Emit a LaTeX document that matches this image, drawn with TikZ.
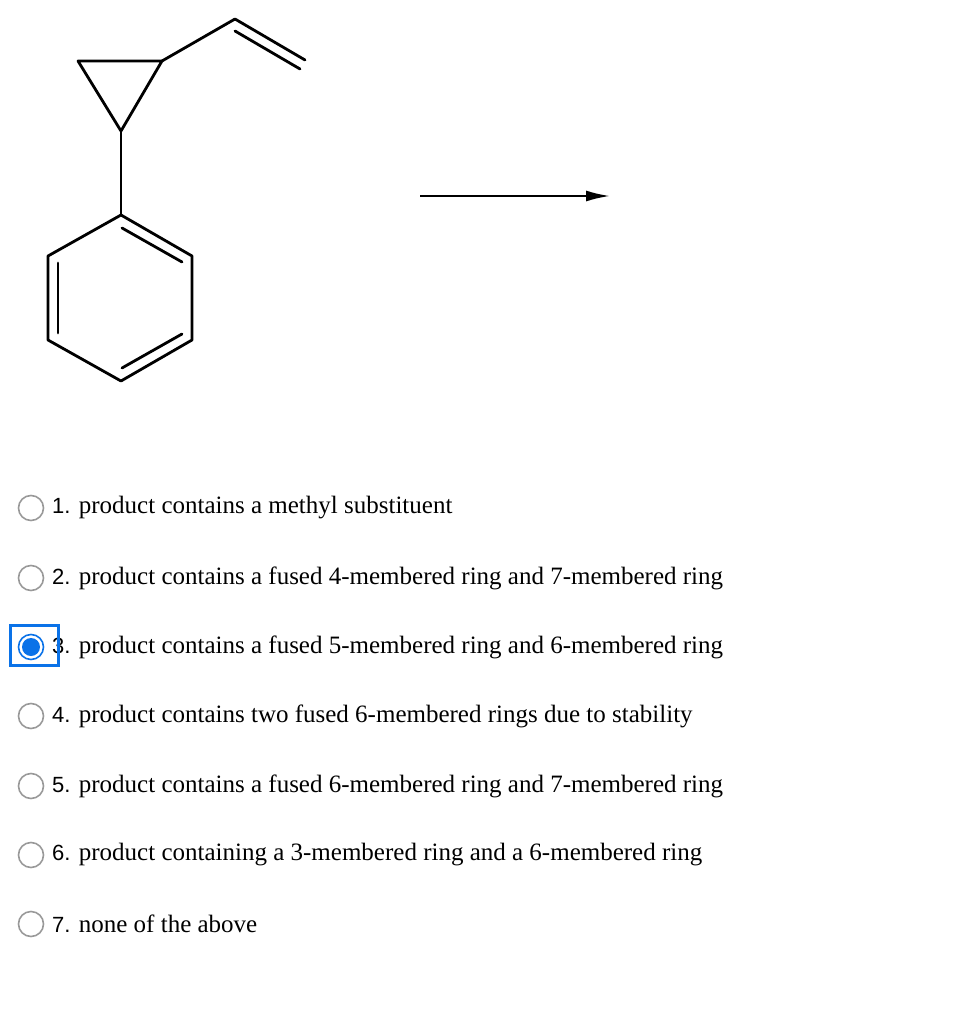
\documentclass[tikz,border=0pt]{standalone}
\usepackage{fontspec}
\setmainfont{Liberation Serif}
\newfontfamily\numfont{Liberation Sans}
\usetikzlibrary{arrows.meta}
\definecolor{selblue}{HTML}{0A72E8}
\tikzset{bond/.style={line width=2.8pt,line cap=round,line join=round},
 radio/.style={circle,draw=gray!80,line width=1.6pt,minimum size=25pt,inner sep=0pt},
 opt/.style={anchor=west,inner sep=0pt,font=\fontsize{25pt}{27pt}\selectfont}}
\begin{document}
\begin{tikzpicture}[x=1pt,y=-1pt]
\useasboundingbox (0,0) rectangle (969,1024);
% cyclopropane
\coordinate (a) at (78,61); \coordinate (b) at (162,61); \coordinate (c) at (121,131);
\coordinate (v1) at (235,19); \coordinate (v2) at (305,60);
\draw[bond] (a)--(b)--(c)--cycle;
\draw[bond] (b)--(v1)--(v2);
\draw[bond] (235,31)--(300,69);
% phenyl
\coordinate (p1) at (121,215); \coordinate (p2) at (192,256); \coordinate (p3) at (192,340);
\coordinate (p4) at (121,381); \coordinate (p5) at (48,340); \coordinate (p6) at (48,256);
\draw[bond] (c)--(p1);
\draw[bond] (p1)--(p2)--(p3)--(p4)--(p5)--(p6)--cycle;
\draw[bond] (122,228)--(182,262);
\draw[bond] (58,263)--(58,333);
\draw[bond] (122,368)--(182,334);
% arrow
\coordinate (r1) at (420,196); \coordinate (r2) at (610,196);
\draw[line width=2.2pt,-{Latex[length=24pt,width=11pt]}] (r1)--(r2);
% options
\foreach \y/\n/\t in {508/1/product contains a methyl substituent,
 578/2/product contains a fused 4-membered ring and 7-membered ring,
 716/4/product contains two fused 6-membered rings due to stability,
 786/5/product contains a fused 6-membered ring and 7-membered ring,
 855/6/product containing a 3-membered ring and a 6-membered ring,
 924/7/none of the above}{
 \node[radio] (r\n) at (31,\y) {};
 \node[opt] (t\n) at (52,\y) {{\numfont\fontsize{22pt}{24pt}\selectfont\n.} \t};
}
\node[circle,draw=selblue,line width=1.6pt,minimum size=25pt,inner sep=0pt] (r3) at (31,647) {};
\node[circle,fill=selblue,minimum size=18pt,inner sep=0pt] (r3f) at (31,647) {};
\node[opt] (t3) at (52,647) {{\numfont\fontsize{22pt}{24pt}\selectfont 3.} product contains a fused 5-membered ring and 6-membered ring};
\draw[selblue,line width=3pt] (10,625) rectangle (58,665);
\end{tikzpicture}
\end{document}
